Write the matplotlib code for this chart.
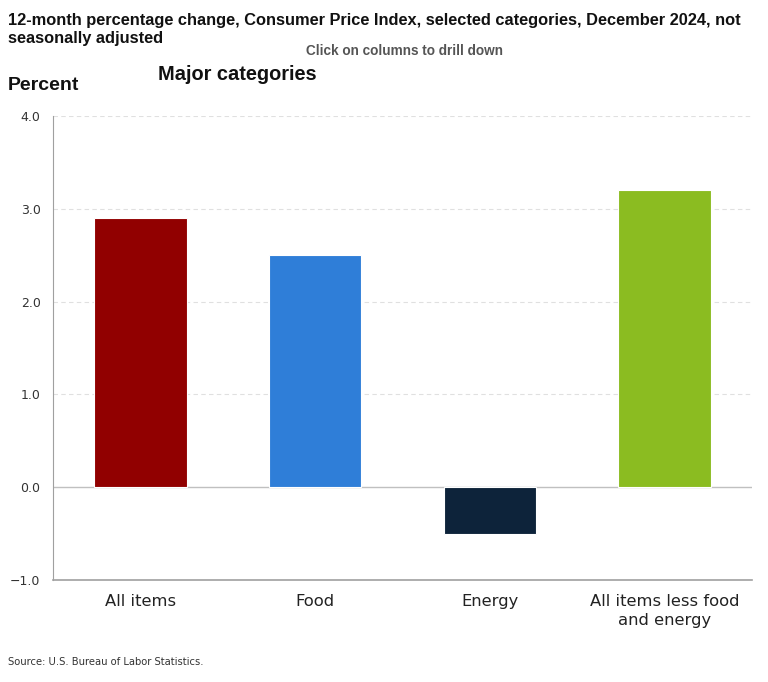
import matplotlib
matplotlib.use("Agg")
import matplotlib.pyplot as plt

categories = ["All items", "Food", "Energy", "All items less food\nand energy"]
values = [2.9, 2.5, -0.5, 3.2]
colors = ["#910000", "#2f7ed8", "#0d233a", "#8bbc21"]
yticks = [-1.0, 0.0, 1.0, 2.0, 3.0, 4.0]
ytick_labels = ["\u22121.0", "0.0", "1.0", "2.0", "3.0", "4.0"]

head_font = "Liberation Sans"

fig = plt.figure(figsize=(7.68, 6.82), dpi=100)
ax = fig.add_axes([53/768, 1-580/682, (752-53)/768, (580-116)/682])

x = list(range(len(categories)))
ax.bar(x, values, width=0.53, color=colors, edgecolor="white", linewidth=0.8, zorder=3)
ax.axhline(0, color="#c0c0c0", linewidth=1.0, zorder=2)
ax.set_xlim(-0.5, 3.5)
ax.set_ylim(-1.0, 4.0)
ax.set_yticks(yticks)
ax.set_yticklabels(ytick_labels, fontsize=9, family="DejaVu Sans", color="#333333")
ax.set_xticks(x)
ax.set_xticklabels(categories, fontsize=11.8, family="DejaVu Sans", color="#222222", linespacing=1.32)
ax.tick_params(axis="y", length=0, pad=9)
ax.tick_params(axis="x", length=0, pad=10)
for yv in [1, 2, 3, 4]:
    ax.axhline(yv, color="#e0e0e0", linewidth=0.8, linestyle=(0, (4, 3)), zorder=1)
for s in ["top", "right"]:
    ax.spines[s].set_visible(False)
ax.spines["left"].set_color("#a0a0a0")
ax.spines["bottom"].set_color("#a0a0a0")
ax.spines["bottom"].set_linewidth(1.2)

fig.text(8/768, 1-20/682, "12-month percentage change, Consumer Price Index, selected categories, December 2024, not",
         fontsize=11.75, fontweight="bold", family=head_font, va="center", ha="left", color="#111111")
fig.text(8/768, 1-38/682, "seasonally adjusted",
         fontsize=11.75, fontweight="bold", family=head_font, va="center", ha="left", color="#111111")
fig.text(405/768, 1-51/682, "Click on columns to drill down", fontsize=9.8, fontweight="bold",
         family=head_font, va="center", ha="center", color="#555555")
fig.text(158/768, 1-74/682, "Major categories", fontsize=14.4, fontweight="bold",
         family=head_font, va="center", ha="left", color="#111111")
fig.text(8/768, 1-86/682, "Percent", fontsize=14, fontweight="bold",
         family=head_font, va="center", ha="left", color="#111111")
fig.text(8/768, 1-662/682, "Source: U.S. Bureau of Labor Statistics.", fontsize=7.2,
         family="DejaVu Sans", va="center", ha="left", color="#333333")

fig.savefig("out.png", dpi=100, facecolor="white")
